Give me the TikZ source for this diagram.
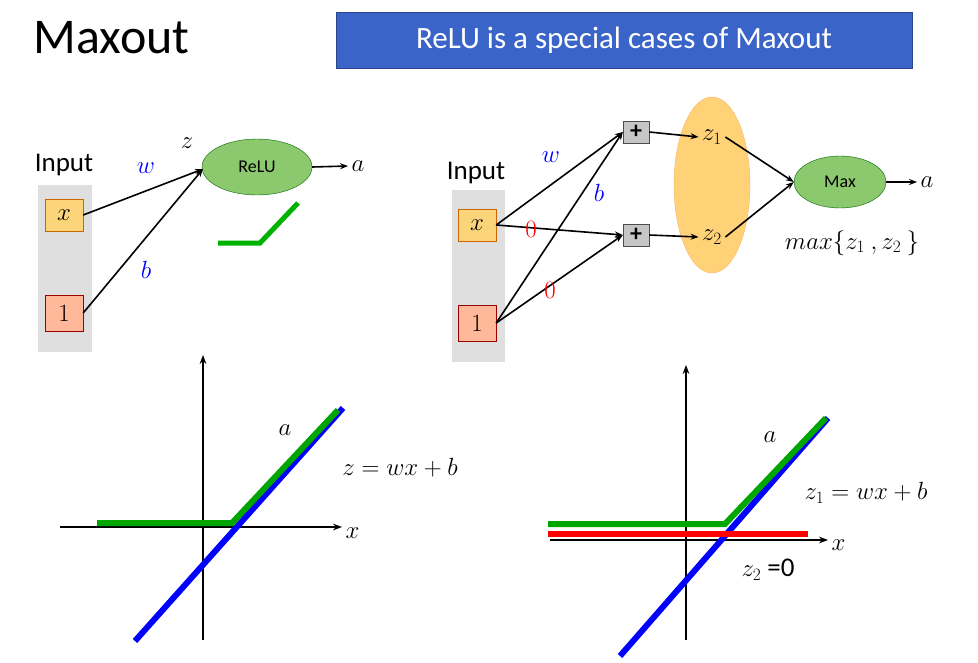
\documentclass[tikz,border=0pt]{standalone}
\usepackage{fontspec}
\setmainfont{Carlito}
\usetikzlibrary{arrows.meta,shapes.geometric}
\definecolor{banblue}{RGB}{58,100,200}
\definecolor{nodegreen}{RGB}{140,200,110}
\definecolor{grpor}{RGB}{255,210,120}
\begin{document}
\begin{tikzpicture}[x=1pt,y=-1pt,
  ln/.style={line width=1.6pt,-{Stealth[length=8pt]}},
  big/.style={font=\fontsize{27}{30}\selectfont},
  inbox/.style={draw=orange!80!black,fill=yellow!40!orange!50,minimum width=38pt,minimum height=32pt,big},
  onebox/.style={draw=red!60!black,fill=red!40!orange!40,minimum width=38pt,minimum height=36pt,big},
  plusbox/.style={draw=gray!60!black,fill=gray!45,minimum width=26pt,minimum height=22pt,inner sep=0pt,font=\fontsize{24}{26}\selectfont\bfseries},
  ax/.style={line width=1.3pt,-{Stealth[length=9pt]}},
  thick6/.style={line width=6pt}]
\useasboundingbox (0,0) rectangle (978,662);
\node[font=\fontsize{50}{54}\selectfont,anchor=west] (title) at (30,38) {Maxout};
\node[fill=banblue,draw=banblue!70!black,text=white,minimum width=576pt,minimum height=56pt,font=\fontsize{31}{34}\selectfont] (banner) at (624,40) {ReLU is a special cases of Maxout};
% left network
\fill[gray!25] (38,185) rectangle (92,352);
\node[font=\fontsize{27}{30}\selectfont] (inL) at (64,165) {Input};
\node[inbox] (xL) at (64,215) {$x$};
\node[onebox] (oL) at (64,313) {$1$};
\node[ellipse,fill=nodegreen,draw=green!40!black,minimum width=110pt,minimum height=56pt,font=\fontsize{18}{20}\selectfont] (relu) at (257,167) {ReLU};
\coordinate (zin) at (203,169);
\draw[ln] (xL.east) -- (zin);
\draw[ln] (oL.east) -- (zin);
\node[blue,big] (wL) at (146,168) {$w$};
\node[blue,big] (bL) at (146,270) {$b$};
\node[big] (zL) at (187,143) {$z$};
\node[big] (aL) at (358,166) {$a$};
\draw[ln] (relu.east) -- (aL.west);
\draw[green!70!black,line width=5pt] (218,243) -- (260,243) -- (298,203);
% right network
\fill[gray!25] (452,190) rectangle (505,362);
\node[font=\fontsize{27}{30}\selectfont] (inR) at (476,173) {Input};
\node[inbox] (xR) at (477,225) {$x$};
\node[onebox] (oR) at (477,323) {$1$};
\node[plusbox] (p1) at (636,132) {+};
\node[plusbox] (p2) at (636,235) {+};
\node[ellipse,fill=grpor,draw=orange!60,minimum width=76pt,minimum height=176pt] (grp) at (712,185) {};
\node[big] (z1) at (712,137) {$z_1$};
\node[big] (z2) at (712,237) {$z_2$};
\node[ellipse,fill=nodegreen,draw=green!40!black,minimum width=92pt,minimum height=52pt,font=\fontsize{18}{20}\selectfont] (max) at (840,182) {Max};
\node[big] (aR) at (927,182) {$a$};
\node[font=\fontsize{24}{26}\selectfont] (maxl) at (852,243) {$max\{z_1\ ,z_2\ \}$};
\draw[ln] (xR.east) -- (p1.west);
\draw[ln] (xR.east) -- (p2.west);
\draw[ln] (oR.east) -- (p1.west);
\draw[ln] (oR.east) -- (p2.west);
\draw[ln] (p1.east) -- (z1.west);
\draw[ln] (p2.east) -- (z2.west);
\draw[ln] (z1.east) -- (max.west);
\draw[ln] (z2.east) -- (max.west);
\draw[ln] (max.east) -- (aR.west);
\node[blue,big] (wR) at (551,157) {$w$};
\node[blue,big] (bR) at (599,193) {$b$};
\node[red,big] (r0a) at (531,229) {$0$};
\node[red,big] (r0b) at (550,290) {$0$};
% bottom left plot
\coordinate (yb1) at (203,640); \coordinate (yt1) at (203,355);
\coordinate (xl1) at (60,527); \coordinate (xr1) at (342,527);
\draw[ax] (yb1) -- (yt1);
\draw[ax] (xl1) -- (xr1);
\node[big,anchor=west] (xlab1) at (342,533) {$x$};
\draw[blue,thick6] (135,641) -- (343,408);
\draw[green!65!black,thick6] (97,523) -- (232,523) -- (338,410);
\node[big] (alab1) at (285,430) {$a$};
\node[big] (eq1) at (400,468) {$z=wx+b$};
% bottom right plot
\coordinate (yb2) at (686,640); \coordinate (yt2) at (686,365);
\coordinate (xl2) at (550,540); \coordinate (xr2) at (828,540);
\draw[ax] (yb2) -- (yt2);
\draw[ax] (xl2) -- (xr2);
\node[big,anchor=west] (xlab2) at (828,545) {$x$};
\draw[blue,thick6] (620,656) -- (828,418);
\draw[green!65!black,thick6] (548,524) -- (725,524) -- (826,418);
\draw[red,thick6] (548,534) -- (808,534);
\node[big] (alab2) at (770,437) {$a$};
\node[big] (eq2) at (866,493) {$z_1=wx+b$};
\node[big] (eq3) at (768,570) {$z_2$ =0};
\end{tikzpicture}
\end{document}
